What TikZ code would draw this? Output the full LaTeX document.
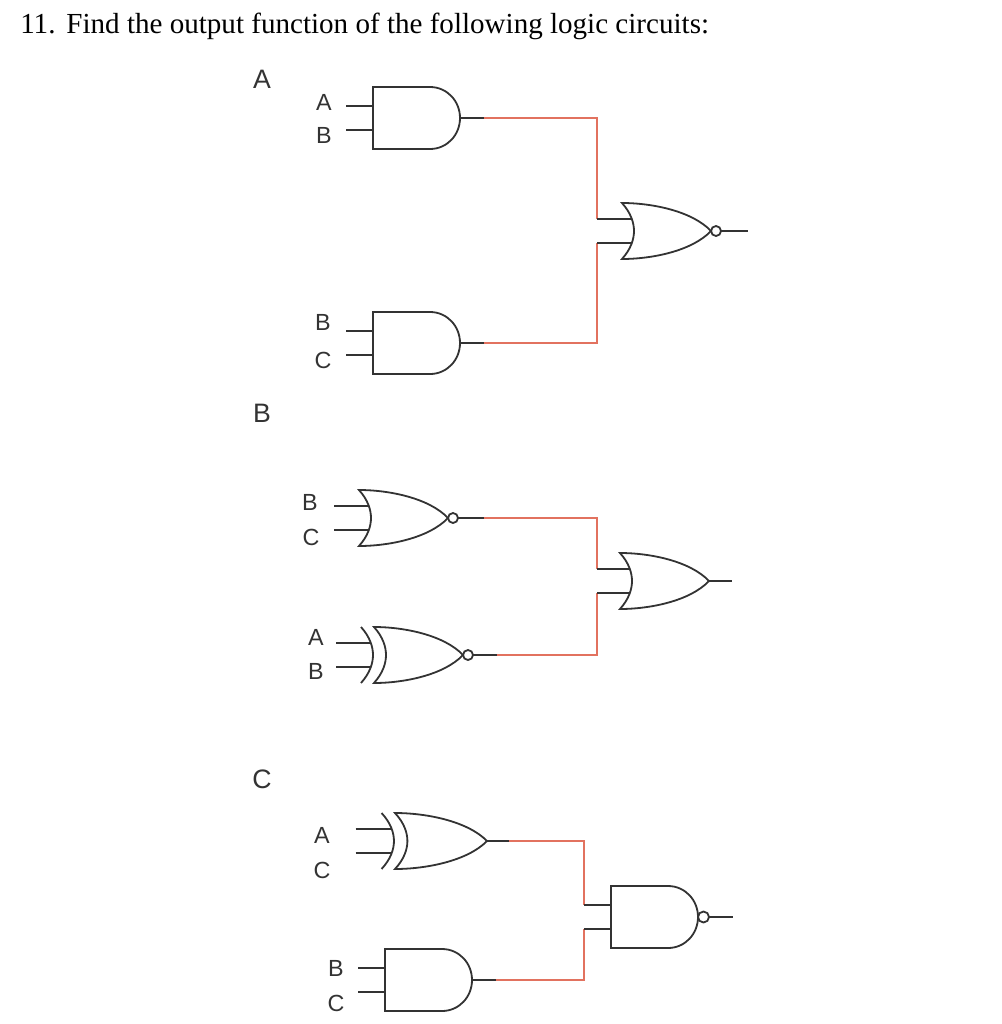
\documentclass[tikz,border=0pt]{standalone}
\usepackage{fontspec}
\setmainfont{Liberation Serif}
\setsansfont{Liberation Sans}
\usepackage{xcolor}
\usetikzlibrary{positioning, arrows.meta}

\definecolor{wirered}{HTML}{E2725F}
\definecolor{gateline}{HTML}{333333}

\newcommand{\andbody}{\draw[wire] (0,-31) -- (57,-31) .. controls (74,-31) and (87,-17) .. (87,0)
    .. controls (87,17) and (74,31) .. (57,31) -- (0,31) -- cycle;}
\newcommand{\orbody}{\draw[wire] (0,-28) .. controls (9,-18) and (12,-8) .. (12,0)
    .. controls (12,8) and (9,18) .. (0,28)
    .. controls (30,28) and (70,20) .. (89,0)
    .. controls (70,-20) and (30,-28) .. (0,-28) -- cycle;}
\newcommand{\xorback}{\draw[wire] (-13,-28) .. controls (-4,-18) and (-1,-8) .. (-1,0)
    .. controls (-1,8) and (-4,18) .. (-13,28);}

\tikzset{
    wire/.style={gateline, line width=1.35pt},
    redwire/.style={wirered, line width=1.25pt},
    inlabel/.style={font=\sffamily\fontsize{17.5}{20}\selectfont, text=gateline, inner sep=0pt},
    partlabel/.style={font=\sffamily\fontsize{20}{24}\selectfont, text=gateline, inner sep=0pt},
    andgate/.pic={
        \andbody
        \coordinate (-in1) at (0,-12); \coordinate (-in2) at (0,12);
        \coordinate (-stub1) at (-#1,-12); \coordinate (-stub2) at (-#1,12);
        \coordinate (-out) at (87,0); \coordinate (-end) at (111,0);
    },
    nandgate/.pic={
        \andbody
        \draw[wire] (92.5,0) circle (5.5);
        \coordinate (-in1) at (0,-12); \coordinate (-in2) at (0,12);
        \coordinate (-stub1) at (-#1,-12); \coordinate (-stub2) at (-#1,12);
        \coordinate (-out) at (98,0); \coordinate (-end) at (122,0);
    },
    orgate/.pic={
        \orbody
        \coordinate (-in1) at (10,-12); \coordinate (-in2) at (10,12);
        \coordinate (-stub1) at (10-#1,-12); \coordinate (-stub2) at (10-#1,12);
        \coordinate (-out) at (89,0); \coordinate (-end) at (112,0);
    },
    norgate/.pic={
        \orbody
        \draw[wire] (94,0) circle (5);
        \coordinate (-in1) at (10,-12); \coordinate (-in2) at (10,12);
        \coordinate (-stub1) at (10-#1,-12); \coordinate (-stub2) at (10-#1,12);
        \coordinate (-out) at (99,0); \coordinate (-end) at (125,0);
    },
    xorgate/.pic={
        \orbody
        \xorback
        \coordinate (-in1) at (-3,-12); \coordinate (-in2) at (-3,12);
        \coordinate (-stub1) at (-3-#1,-12); \coordinate (-stub2) at (-3-#1,12);
        \coordinate (-out) at (89,0); \coordinate (-end) at (110,0);
    },
    xnorgate/.pic={
        \orbody
        \xorback
        \draw[wire] (94,0) circle (5);
        \coordinate (-in1) at (-3,-12); \coordinate (-in2) at (-3,12);
        \coordinate (-stub1) at (-3-#1,-12); \coordinate (-stub2) at (-3-#1,12);
        \coordinate (-out) at (99,0); \coordinate (-end) at (123,0);
    }
}

\begin{document}
\begin{tikzpicture}[x=0.75pt, y=-0.75pt]
    \useasboundingbox (0,0) rectangle (1002,1024);

    \node[anchor=base west, inner sep=0pt, font=\fontsize{21.8}{26}\selectfont] (title) at (20,34)
        {11.\hspace{8.2pt}Find the output function of the following logic circuits:};

    \node[partlabel] (partA) at (262,79) {A};
    \node[partlabel] (partB) at (262,413) {B};
    \node[partlabel] (partC) at (262,779) {C};

    % input letters
    \foreach \n/\t/\x/\y in {a1A/A/324/102, a1B/B/324/135, a2B/B/323/322, a2C/C/323/360,
        b1B/B/310/502, b1C/C/311/537, b2A/A/316/637, b2B/B/316/671,
        c1A/A/322/835, c1C/C/322/870, c2B/B/336/968, c2C/C/336/1003}
        \node[inlabel] (\n) at (\x,\y) {\t};

    % circuit A
    \pic (a1) at (373,118) {andgate=27};
    \pic (a2) at (373,343) {andgate=27};
    \pic (a3) at (622,231) {norgate=35};
    \coordinate (a3-end) at (748,231);

    % circuit B
    \pic (b1) at (359,518) {norgate=35};
    \pic (b2) at (374,655) {xnorgate=35};
    \pic (b3) at (620,581) {orgate=33};

    % circuit C
    \pic[xscale=1.034] (c1) at (395,841) {xorgate=35};
    \pic (c2) at (385,980) {andgate=27};
    \pic (c3) at (611,917) {nandgate=27};

    \draw[redwire] (a1-end) -| (a3-stub1);
    \draw[redwire] (a2-end) -| (a3-stub2);
    \draw[redwire] (b1-end) -| (b3-stub1);
    \draw[redwire] (b2-end) -| (b3-stub2);
    \draw[redwire] (c1-end) -| (c3-stub1);
    \draw[redwire] (c2-end) -| (c3-stub2);

    \foreach \g in {a1,a2,a3,b1,b2,b3,c1,c2,c3} {
        \draw[wire] (\g-stub1) -- (\g-in1);
        \draw[wire] (\g-stub2) -- (\g-in2);
        \draw[wire] (\g-out) -- (\g-end);
    }
\end{tikzpicture}
\end{document}
